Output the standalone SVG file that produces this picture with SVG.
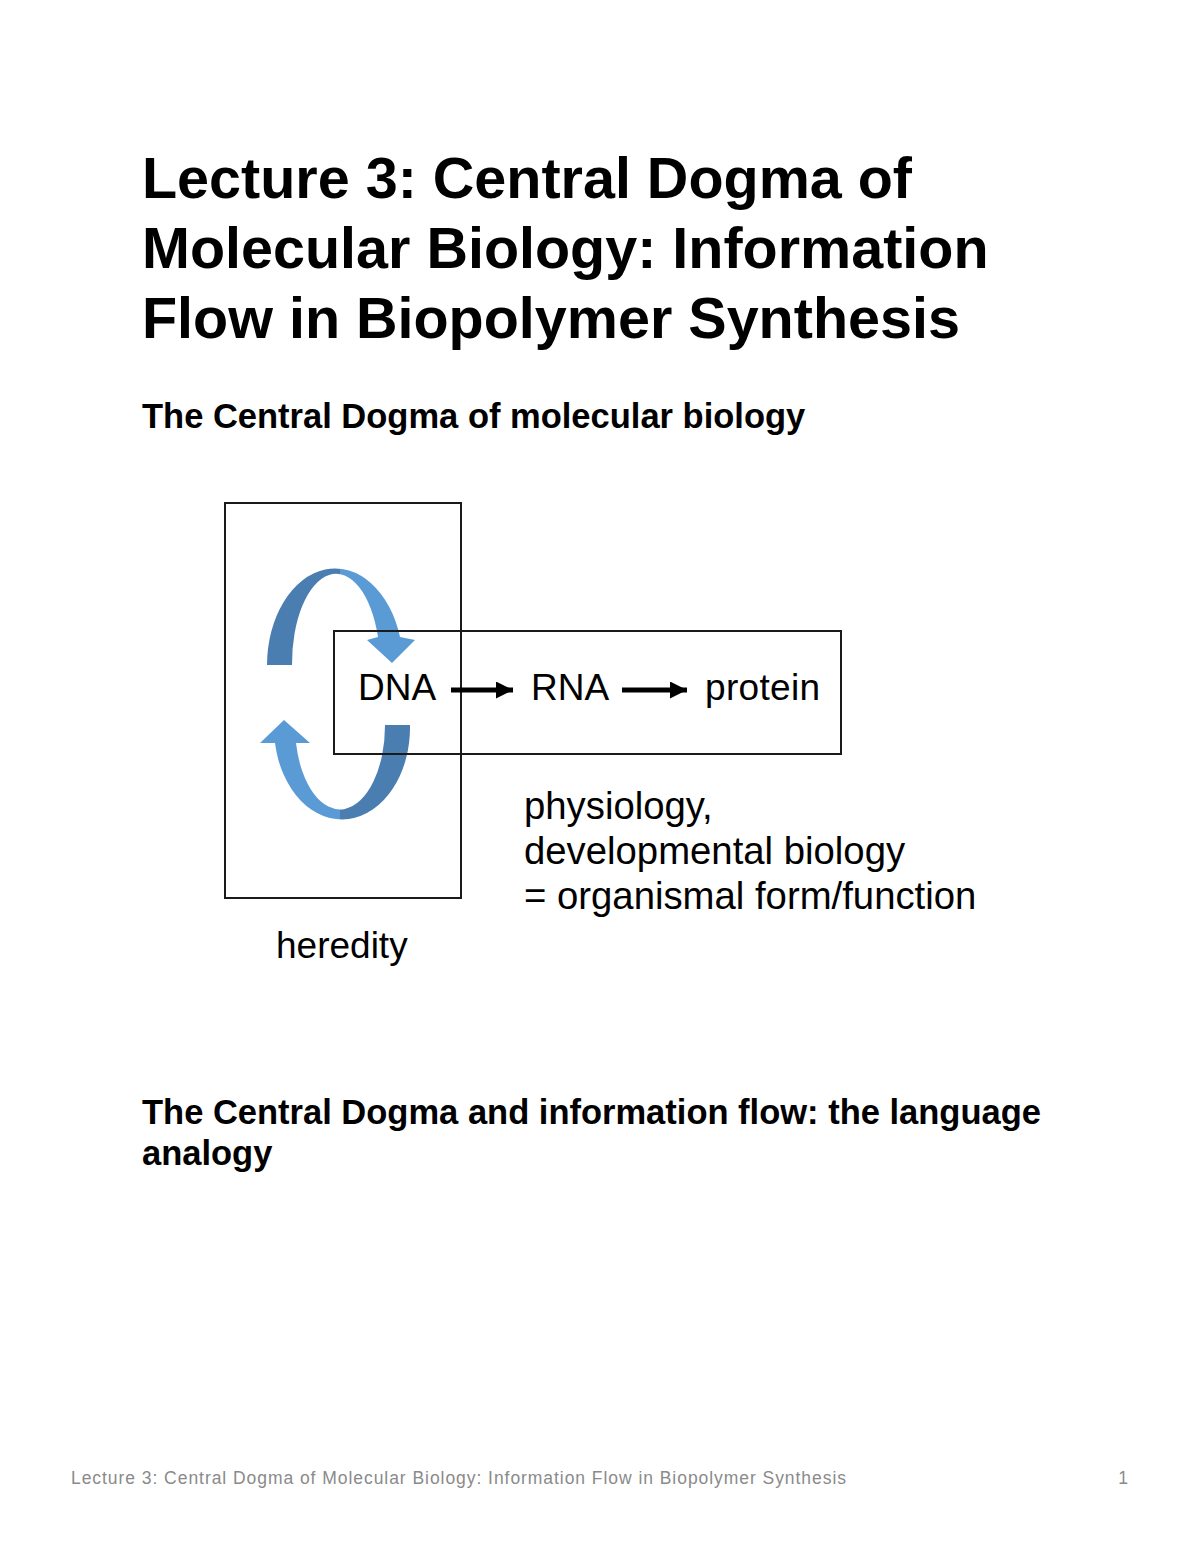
<svg xmlns="http://www.w3.org/2000/svg" width="1200" height="1553" viewBox="0 0 1200 1553">
<style>
.t{font-family:"Liberation Sans",Arial,sans-serif;fill:#000}
.b{font-weight:bold}
.lbl{font-size:37px}
.lbl2{font-size:38.3px}
.h1{font-size:57.5px}
.h2{font-size:34.5px}
.box{fill:none;stroke:#1a1a1a;stroke-width:2}
.foot{font-family:"Liberation Sans",Arial,sans-serif;font-size:17.5px;fill:#8a8a8a}
</style>
<defs>
<linearGradient id="gTop" gradientUnits="userSpaceOnUse" x1="260" y1="0" x2="420" y2="0">
<stop offset="0" stop-color="#4a7eb0"/><stop offset="0.5" stop-color="#4a7eb0"/><stop offset="0.5" stop-color="#5b9bd5"/><stop offset="1" stop-color="#5b9bd5"/>
</linearGradient>
<linearGradient id="gBot" gradientUnits="userSpaceOnUse" x1="260" y1="0" x2="420" y2="0">
<stop offset="0" stop-color="#5b9bd5"/><stop offset="0.5" stop-color="#5b9bd5"/><stop offset="0.5" stop-color="#4a7eb0"/><stop offset="1" stop-color="#4a7eb0"/>
</linearGradient>
<marker id="ah" viewBox="0 0 10 10" refX="10" refY="5" markerWidth="3.8" markerHeight="3.4" orient="auto" markerUnits="strokeWidth">
<path d="M0,0 L10,5 L0,10 Z" fill="#000"/>
</marker>
</defs>
<rect width="1200" height="1553" fill="#fff"/>
<g id="title">
<text class="t b h1" x="142" y="198">Lecture 3: Central Dogma of</text>
<text class="t b h1" x="142" y="268">Molecular Biology: Information</text>
<text class="t b h1" x="142" y="338">Flow in Biopolymer Synthesis</text>
</g>
<text class="t b h2" x="142" y="428">The Central Dogma of molecular biology</text>
<g id="heredity-box">
<rect class="box" x="225" y="503" width="236" height="395"/>
</g>
<g id="cycle-arrows">
<path d="M267 665 A68 97 0 0 1 400 637 L415 640 L392 663 L367 640 L378 637 A44 90 0 0 0 292 665 Z" fill="url(#gTop)"/>
<path d="M410 725 A68 92 0 0 1 275 743 L260 743 L284 720 L310 743 L296 743 A45 84 0 0 0 385 725 Z" fill="url(#gBot)"/>
</g>
<g id="flow-box">
<rect class="box" x="334" y="631" width="507" height="123"/>
</g>
<g id="DNA"><text class="t lbl" x="358" y="700">DNA</text></g>
<g id="RNA"><text class="t lbl" x="531" y="700">RNA</text></g>
<g id="protein"><text class="t lbl" x="705" y="700" textLength="115">protein</text></g>
<g id="connectors">
<line x1="451" y1="690" x2="513" y2="690" stroke="#000" stroke-width="5" marker-end="url(#ah)"/>
<line x1="622" y1="690" x2="687" y2="690" stroke="#000" stroke-width="5" marker-end="url(#ah)"/>
</g>
<g id="function-label">
<text class="t lbl2" x="524" y="819">physiology,</text>
<text class="t lbl2" x="524" y="864">developmental biology</text>
<text class="t lbl2" x="524" y="909">= organismal form/function</text>
</g>
<g id="heredity-label"><text class="t lbl" x="276" y="958">heredity</text></g>
<text class="t b h2" x="142" y="1124">The Central Dogma and information flow: the language</text>
<text class="t b h2" x="142" y="1165">analogy</text>
<text class="foot" x="71" y="1484" textLength="775" lengthAdjust="spacing">Lecture 3: Central Dogma of Molecular Biology: Information Flow in Biopolymer Synthesis</text>
<text class="foot" x="1128" y="1484" text-anchor="end">1</text>
</svg>
